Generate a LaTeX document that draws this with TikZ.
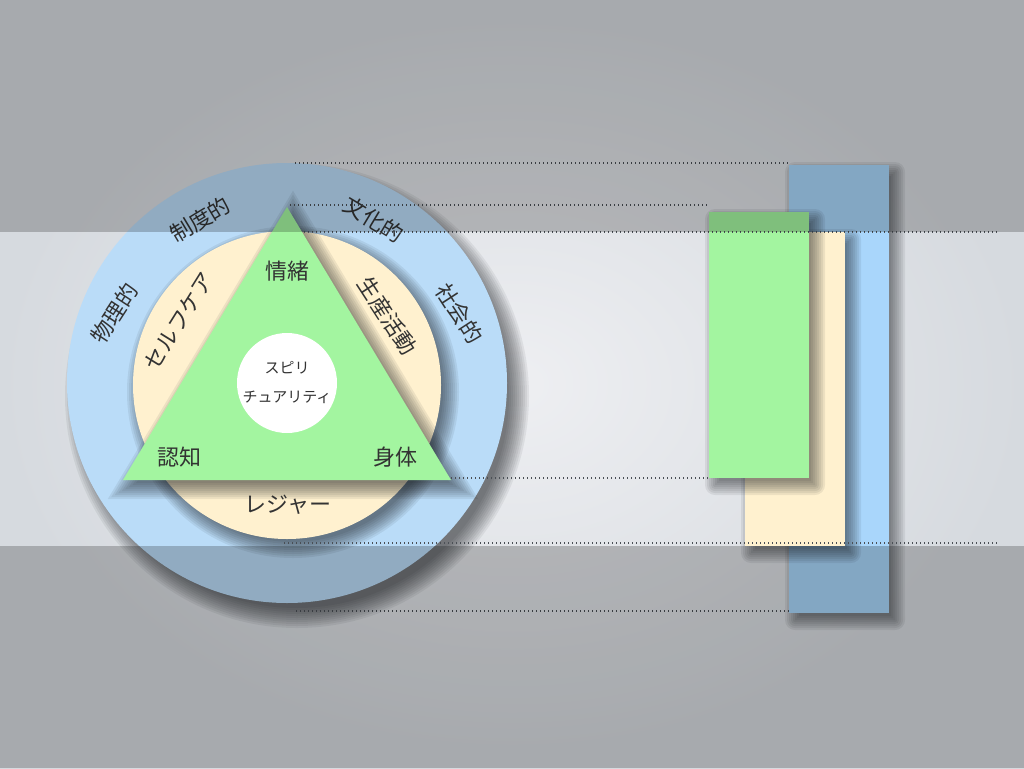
\documentclass[tikz,border=0pt]{standalone}
\usepackage{fontspec}
\setmainfont{Noto Sans CJK JP}
\definecolor{bandin}{HTML}{EEEFF2}
\definecolor{bandout}{HTML}{D6DADF}
\definecolor{ringblue}{HTML}{BADCF8}
\definecolor{rectblue}{HTML}{A9D6FB}
\definecolor{cream}{HTML}{FFF1CF}
\definecolor{leaf}{HTML}{A3F5A0}
\definecolor{txt}{HTML}{333333}
\definecolor{dotc}{HTML}{4A4F55}
\definecolor{shadowc}{HTML}{15181C}
\tikzset{
  shdlayer/.style={fill=shadowc,fill opacity=0.075,draw=none},
  lab/.style={text=txt,font=\fontsize{22}{24}\selectfont,inner sep=0pt},
  small/.style={text=txt,font=\fontsize{15}{18}\selectfont,inner sep=0pt},
  guide/.style={draw=dotc,line width=1.1pt,dash pattern=on 1pt off 3pt},
  dim/.style={fill=black,fill opacity=0.22,draw=none}
}
\begin{document}
\begin{tikzpicture}[x=1pt,y=-1pt]
\useasboundingbox (0,0) rectangle (1024,768);
\shade[inner color=bandin,outer color=bandout] (0,0) rectangle (1024,768);
% right rectangles with soft shadows
\foreach \d in {-4,-2,...,10}{
  \path[shdlayer,rounded corners={max(\d,0.1)*1pt}] ({789+6-\d},{165+7-\d}) rectangle ({889+6+\d},{613+7+\d});}
\path[fill=rectblue] (789,165) rectangle (889,613);
\foreach \d in {-4,-2,...,10}{
  \path[shdlayer,rounded corners={max(\d,0.1)*1pt}] ({745+6-\d},{232+7-\d}) rectangle ({845+6+\d},{546+7+\d});}
\path[fill=cream] (745,232) rectangle (845,546);
\foreach \d in {-4,-2,...,10}{
  \path[shdlayer,rounded corners={max(\d,0.1)*1pt}] ({709+6-\d},{212+7-\d}) rectangle ({809+6+\d},{478+7+\d});}
\path[fill=leaf] (709,212) rectangle (809,478);
% circles and triangle with soft shadows
\foreach \d in {-8,-6,...,12}{
  \path[shdlayer,fill opacity=0.065] (297,396) circle[radius={220+\d}];}
\path[fill=ringblue] (287,383) circle[radius=220];
\foreach \d in {-4,-2,...,12}{
  \path[shdlayer] (293,392) circle[radius={154+\d}];}
\path[fill=cream] (287,385) circle[radius=154];
\foreach \d in {-4,-2,...,12}{
  \path[shdlayer,shift={(6,7)},scale around={{(92.8+\d)/92.8}:(287,387.2)}] (287,207) -- (451,480) -- (123,480) -- cycle;}
\path[fill=leaf] (287,207) -- (451,480) -- (123,480) -- cycle;
\node[circle,fill=white,minimum size=100pt,inner sep=0pt] (spirit) at (287,383) {};
% labels
\node[lab,rotate=57] (l1) at ({287+186*cos(158)},{383-186*sin(158)}) {物理的};
\node[lab,rotate=31] (l2) at ({287+185*cos(118)},{383-185*sin(118)}) {制度的};
\node[lab,rotate=-31] (l3) at ({287+185*cos(62)},{383-185*sin(62)}) {文化的};
\node[lab,rotate=-57] (l4) at ({287+186*cos(22)},{383-186*sin(22)}) {社会的};
\node[lab,rotate=58] (l5) at (179,321) {セルフケア};
\node[lab,rotate=-57] (l6) at (387,316) {生産活動};
\node[lab] (l7) at (288,505) {レジャー};
\node[lab] (l8) at (287,271) {情緒};
\node[lab] (l9) at (179,457) {認知};
\node[lab] (l10) at (395,457) {身体};
\node[small] (s1) at (287,368) {スピリ};
\node[small] (s2) at (287,397) {チュアリティ};
% guide lines
\coordinate (g1a) at (295,163); \coordinate (g1b) at (789,163);
\coordinate (g2a) at (290,205); \coordinate (g2b) at (709,205);
\coordinate (g3a) at (304,232); \coordinate (g3b) at (997,232);
\coordinate (g4a) at (451,478); \coordinate (g4b) at (709,478);
\coordinate (g5a) at (284,543); \coordinate (g5b) at (997,543);
\coordinate (g6a) at (296,611); \coordinate (g6b) at (789,611);
\draw[guide] (g1a) -- (g1b);
\draw[guide] (g2a) -- (g2b);
\draw[guide] (g3a) -- (g3b);
\draw[guide] (g4a) -- (g4b);
\draw[guide] (g5a) -- (g5b);
\draw[guide] (g6a) -- (g6b);
% darkening outside the band
\path[dim] (0,0) rectangle (1024,232);
\path[dim] (0,546) rectangle (1024,768);
\end{tikzpicture}
\end{document}
